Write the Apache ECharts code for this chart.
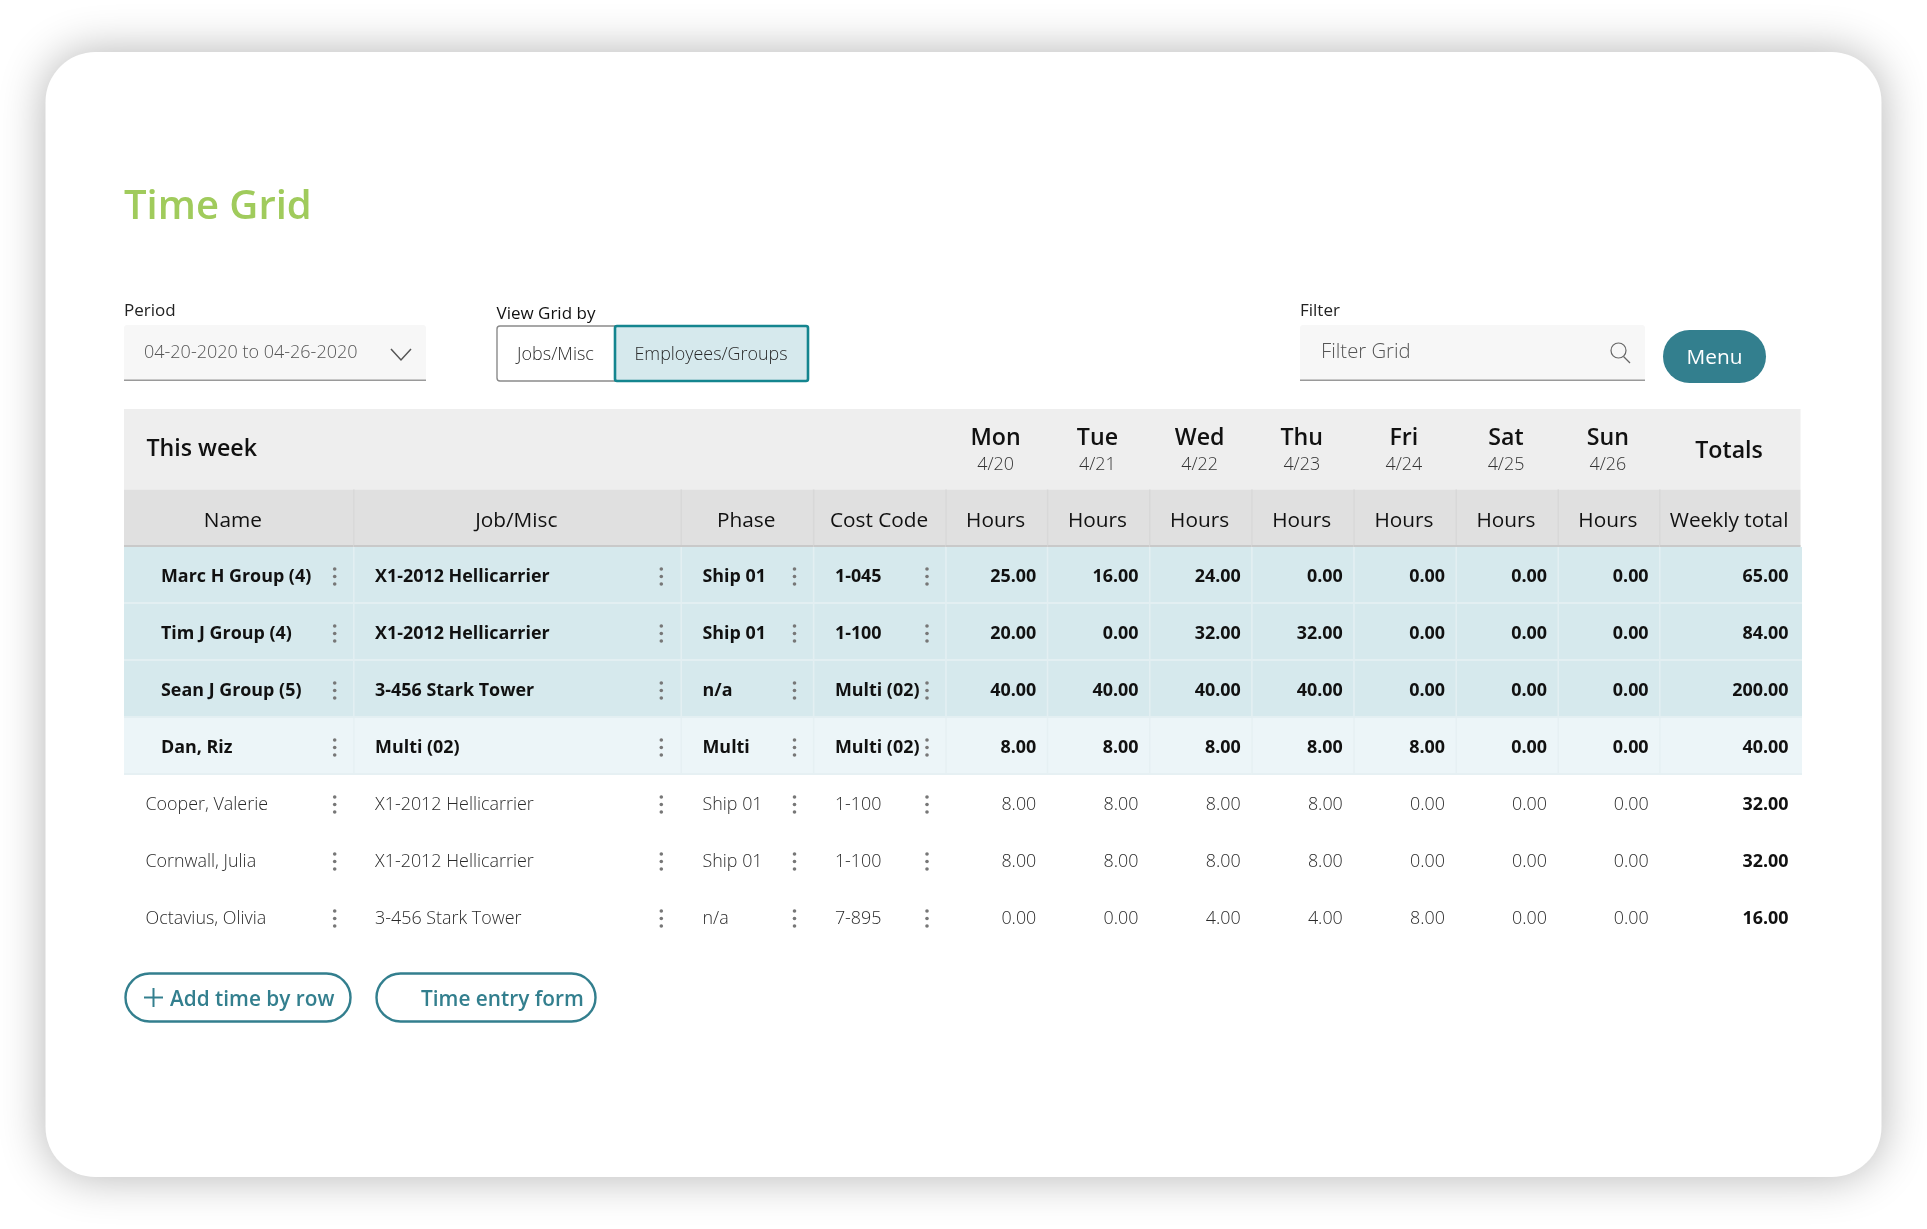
<!DOCTYPE html>
<html><head><meta charset="utf-8"><style>html,body{margin:0;padding:0;background:#fff}#c{width:1927px;height:1229px}</style>
<script src="https://cdn.jsdelivr.net/npm/echarts@6/dist/echarts.min.js"></script></head>
<body><div id="c"></div><script>
// ---- data ----
const names=['Marc H Group (4)','Tim J Group (4)','Sean J Group (5)','Dan, Riz','Cooper, Valerie','Cornwall, Julia','Octavius, Olivia'];
const jobs=['X1-2012 Hellicarrier','X1-2012 Hellicarrier','3-456 Stark Tower','Multi (02)','X1-2012 Hellicarrier','X1-2012 Hellicarrier','3-456 Stark Tower'];
const phases=['Ship 01','Ship 01','n/a','Multi','Ship 01','Ship 01','n/a'];
const costCodes=['1-045','1-100','Multi (02)','Multi (02)','1-100','1-100','7-895'];
const mon=[25,20,40,8,8,8,0];
const tue=[16,0,40,8,8,8,0];
const wed=[24,32,40,8,8,8,4];
const thu=[0,32,40,8,8,8,4];
const fri=[0,0,0,8,0,0,8];
const sat=[0,0,0,0,0,0,0];
const sun=[0,0,0,0,0,0,0];
const weeklyTotals=[65,84,200,40,32,32,16];
const dayNames=['Mon','Tue','Wed','Thu','Fri','Sat','Sun'];
const dayDates=['4/20','4/21','4/22','4/23','4/24','4/25','4/26'];
const columnHeads=['Name','Job/Misc','Phase','Cost Code','Hours','Hours','Hours','Hours','Hours','Hours','Hours','Weekly total'];
const rowKinds=['group','group','group','parent','plain','plain','plain'];

// ---- layout ----
const EDGES=[0,229.6,557,689.4,821.8,923.3,1025.5,1127.7,1229.8,1332,1434,1535.6,1676.5];
const LEFT=124, WIDTH=1676.5;
const FF='"Open Sans"';
const TEAL='#337f8e';
const INK='#111', SOFT='#2a2a2a';
const BG={group:'#d6e9ed',parent:'#ecf5f8',plain:'#ffffff'};
const SEP={group:'#e3eff2',parent:'#e6f0f3',plain:'#ffffff'};
const days=[mon,tue,wed,thu,fri,sat,sun];
const fmt=v=>v.toFixed(2);
const HEAD_SHIFT=[-6,-1,-1,-0.5,-1,-1,-1,-1,-1,-1,-1,-1];
const KEBAB=[210.7,537.3,670.5,803];

function cellText(r,c){
  if(c===0)return names[r]; if(c===1)return jobs[r]; if(c===2)return phases[r]; if(c===3)return costCodes[r];
  if(c===11)return fmt(weeklyTotals[r]); return fmt(days[c-4][r]);
}
const bodyCells=[];
for(let r=0;r<names.length;r++)for(let c=0;c<12;c++)bodyCells.push({value:[c,r]});

function kebab(x,y){
  return [-7.5,0,7.5].map(d=>({type:'circle',shape:{cx:x,cy:y+d,r:1.8},style:{fill:'#777777'}}));
}
function renderBody(params,api){
  const c=api.value(0), r=api.value(1), kind=rowKinds[r];
  const p0=api.coord([EDGES[c],r]), p1=api.coord([EDGES[c+1],r]);
  const h=api.size([0,1])[1], top=p0[1]-h/2, bold=kind!=='plain';
  const w=p1[0]-p0[0]+(c===11?1.5:0);
  const kids=[{type:'rect',shape:{x:p0[0],y:top,width:w,height:h},style:{fill:BG[kind]}}];
  if(kind!=='plain'){
    kids.push({type:'rect',shape:{x:p0[0],y:top+h-2,width:w,height:2},style:{fill:SEP[kind]}});
    if(c>0)kids.push({type:'rect',shape:{x:p0[0]-0.5,y:top,width:1.5,height:h},style:{fill:SEP[kind]}});
  }
  const isText=c<4;
  const heavy=bold||c===11;
  const pad=c===0?(bold?37:21.5):21.5;
  kids.push({type:'text',style:{text:cellText(r,c),x:isText?p0[0]+pad:p1[0]-(c===11?12:11),y:p0[1]+1.5,align:isText?'left':'right',verticalAlign:'middle',
    fill:heavy?INK:SOFT,font:(heavy?'700':'300')+' 17.9px '+FF}});
  if(isText)kids.push(...kebab(LEFT+KEBAB[c],p0[1]+1));
  return {type:'group',children:kids};
}
function renderHead(params,api){
  const c=api.value(0), r=api.value(1);
  const p0=api.coord([EDGES[c],r]), p1=api.coord([EDGES[c+1],r]);
  const h=api.size([0,1])[1], top=p0[1]-h/2;
  const kids=[
    {type:'rect',shape:{x:p0[0],y:top,width:p1[0]-p0[0],height:h},style:{fill:'#e0e0e0'}},
    {type:'rect',shape:{x:p0[0],y:top+h-2,width:p1[0]-p0[0],height:2},style:{fill:'#c9c9c9'}}
  ];
  if(c>0)kids.push({type:'rect',shape:{x:p0[0]-0.5,y:top,width:1.5,height:h-2},style:{fill:'#d8d8d8'}});
  kids.push({type:'text',style:{text:columnHeads[c],x:(p0[0]+p1[0])/2+HEAD_SHIFT[c],y:p0[1]+2.5,align:'center',verticalAlign:'middle',fill:INK,font:'500 20.8px '+FF}});
  return {type:'group',children:kids};
}
function renderBand(params,api){
  const c=api.value(0), r=api.value(1);
  const p0=api.coord([EDGES[c],r]), p1=api.coord([EDGES[c+1],r]);
  const cx=(p0[0]+p1[0])/2;
  const kids=[];
  if(c===0)kids.push({type:'text',style:{text:'This week',x:p0[0]+22.5,y:p0[1],align:'left',verticalAlign:'middle',fill:INK,font:'600 23.2px '+FF}});
  if(c>=4&&c<11){
    kids.push({type:'text',style:{text:dayNames[c-4],x:cx-1,y:p0[1]-10.5,align:'center',verticalAlign:'middle',fill:INK,font:'600 23.2px '+FF}});
    kids.push({type:'text',style:{text:dayDates[c-4],x:cx-1,y:p0[1]+16,align:'center',verticalAlign:'middle',fill:'#333',font:'300 17.9px '+FF}});
  }
  if(c===11)kids.push({type:'text',style:{text:'Totals',x:cx-1,y:p0[1]+2,align:'center',verticalAlign:'middle',fill:INK,font:'600 23.2px '+FF}});
  return {type:'group',children:kids};
}

const label=(t,x,y,extra)=>({type:'text',z:5,style:Object.assign({text:t,x:x,y:y,align:'left',verticalAlign:'middle',fill:'#222',font:'400 17px '+FF},extra||{})});
const chrome=[
  {type:'rect',z:-2,shape:{x:45.5,y:52,width:1836,height:1125,r:50},style:{fill:'#fff',shadowBlur:46,shadowColor:'rgba(0,0,0,0.30)'}},
  label('Time Grid',124,208,{fill:'#a0cb5c',font:'600 40px '+FF}),
  label('Period',124,311.5),
  label('View Grid by',496.5,314,{fill:'#111',font:'500 17px '+FF}),
  label('Filter',1300,311.5),
  {type:'rect',z:1,shape:{x:LEFT,y:409,width:WIDTH,height:80.5},style:{fill:'#eeeeee'}},
  {type:'rect',z:1,shape:{x:124,y:325,width:302,height:55,r:[3,3,0,0]},style:{fill:'#f7f7f7'}},
  {type:'rect',z:1,shape:{x:124,y:379.5,width:302,height:1.6},style:{fill:'#9a9a9a'}},
  label('04-20-2020 to 04-26-2020',144,352.5,{fill:'#555',font:'300 18px '+FF}),
  {type:'polyline',z:5,shape:{points:[[391,349],[401,360],[411,349]]},style:{stroke:'#555',lineWidth:1.5,fill:null}},
  {type:'rect',z:2,shape:{x:497,y:326,width:120,height:55,r:[3,0,0,3]},style:{fill:'#fff',stroke:'#8a8a8a',lineWidth:1.4}},
  {type:'rect',z:3,shape:{x:615,y:326,width:193,height:55,r:2},style:{fill:'#d6e9ed',stroke:'#14858f',lineWidth:2.6}},
  label('Jobs/Misc',555.5,355,{align:'center',fill:'#2a2a2a',font:'300 18px '+FF}),
  label('Employees/Groups',711,355,{align:'center',fill:'#2a2a2a',font:'300 17.9px '+FF}),
  {type:'rect',z:1,shape:{x:1300,y:325,width:345,height:55,r:[3,3,0,0]},style:{fill:'#f7f7f7'}},
  {type:'rect',z:1,shape:{x:1300,y:379.5,width:345,height:1.6},style:{fill:'#9a9a9a'}},
  label('Filter Grid',1321,352.5,{fill:'#555',font:'300 20.3px '+FF}),
  {type:'circle',z:5,shape:{cx:1618.5,cy:350.5,r:7.5},style:{stroke:'#666',lineWidth:1.2,fill:null}},
  {type:'line',z:5,shape:{x1:1623.5,y1:356.5,x2:1630,y2:363},style:{stroke:'#666',lineWidth:1.2}},
  {type:'rect',z:1,shape:{x:1663,y:330,width:103,height:53,r:26.5},style:{fill:TEAL}},
  label('Menu',1714.5,358,{align:'center',fill:'#fff',font:'500 20.8px '+FF}),
  {type:'rect',z:1,shape:{x:125.5,y:973.5,width:225,height:48,r:24},style:{fill:'#fff',stroke:TEAL,lineWidth:2.4}},
  {type:'rect',z:5,shape:{x:144,y:996.5,width:19,height:2},style:{fill:TEAL}},
  {type:'rect',z:5,shape:{x:152.5,y:988,width:2,height:19},style:{fill:TEAL}},
  label('Add time by row',170,1000,{fill:TEAL,font:'600 20.8px '+FF}),
  {type:'rect',z:1,shape:{x:376.5,y:973.5,width:219,height:48,r:24},style:{fill:'#fff',stroke:TEAL,lineWidth:2.4}},
  label('Time entry form',421,1000,{fill:TEAL,font:'600 20.8px '+FF})
];
const xa=i=>({type:'value',gridIndex:i,min:0,max:EDGES[EDGES.length-1],show:false});
const ya=(i,d)=>({type:'category',gridIndex:i,data:d,inverse:true,show:false});
const heads=columnHeads.map((_,c)=>({value:[c,0]}));
const opt={
  animation:false,
  backgroundColor:'#fff',
  graphic:{elements:chrome},
  grid:[
    {left:LEFT,width:WIDTH,top:409,height:80.5},
    {left:LEFT,width:WIDTH,top:489.5,height:57.5},
    {left:LEFT,width:WIDTH,top:547,height:399}
  ],
  xAxis:[xa(0),xa(1),xa(2)],
  yAxis:[ya(0,['This week']),ya(1,['Columns']),ya(2,names)],
  series:[
    {type:'custom',xAxisIndex:0,yAxisIndex:0,clip:false,silent:true,data:heads,renderItem:renderBand,encode:{x:0,y:1}},
    {type:'custom',xAxisIndex:1,yAxisIndex:1,clip:false,silent:true,data:heads,renderItem:renderHead,encode:{x:0,y:1}},
    {type:'custom',xAxisIndex:2,yAxisIndex:2,clip:false,silent:true,data:bodyCells,renderItem:renderBody,encode:{x:0,y:1}}
  ]
};
echarts.init(document.getElementById('c'),null,{renderer:'canvas'}).setOption(opt);
</script></body></html>
